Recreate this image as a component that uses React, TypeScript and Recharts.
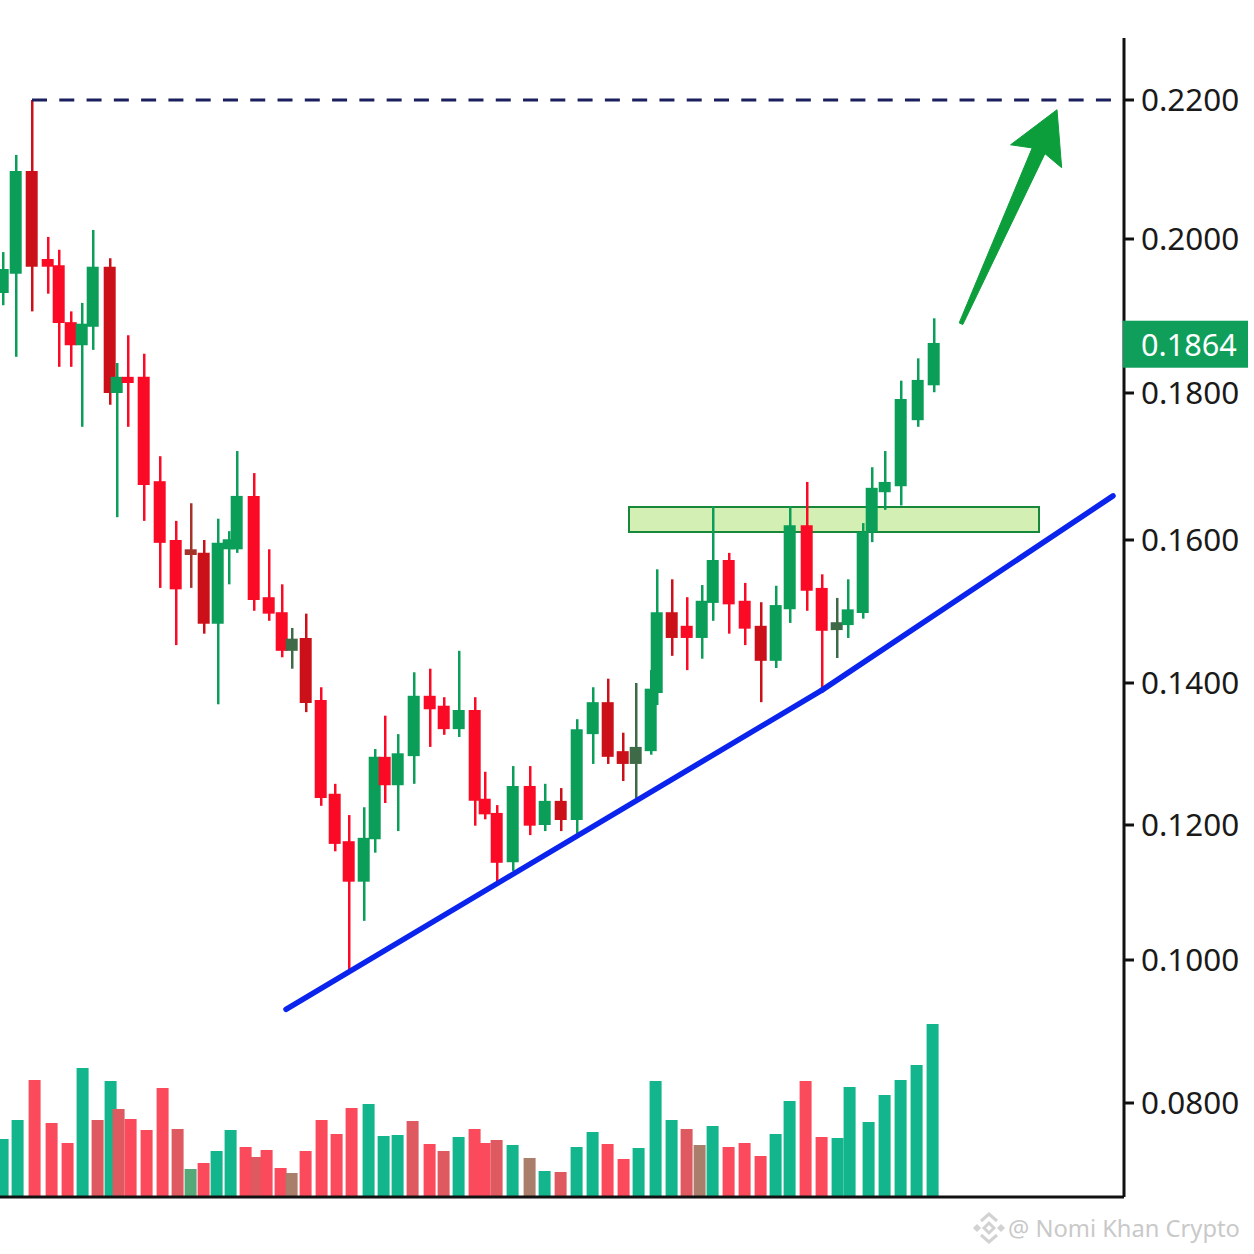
import React from 'react';
import { ComposedChart, Bar, XAxis, YAxis, ReferenceLine, ReferenceArea, Rectangle } from 'recharts';

// ---------- candles ----------
const candleSlot = [3,16,32,48,59,71,82,93,110,117,128,144,160,176,191,204,218,229,237,254,269,282,292,306,321,335,349,364,375,385,398,414,430,444,459,475,485,497,513,530,545,561,577,593,608,623,636,651,657,672,687,702,713,729,745,761,776,790,807,822,837,848,863,872,885,901,918,934];
const high = [.1983,.2121,.2200,.2003,.1986,.1906,.1917,.2013,.1975,.1839,.1875,.1851,.1714,.1626,.1650,.1600,.1629,.1612,.1721,.1691,.1587,.1538,.1477,.1497,.1394,.1258,.1214,.1225,.1307,.1354,.1328,.1415,.1420,.1380,.1445,.1380,.1275,.1228,.1283,.1283,.1258,.1252,.1349,.1394,.1406,.1330,.1400,.1418,.1559,.1545,.1520,.1537,.1646,.1582,.1540,.1513,.1536,.1646,.1679,.1552,.1519,.1545,.1623,.1699,.1721,.1816,.1845,.1897];
const bodyHigh = [.1961,.2098,.2098,.1974,.1966,.1892,.1890,.1964,.1964,.1821,.1821,.1821,.1680,.1600,.1587,.1582,.1596,.1601,.1660,.1660,.1520,.1499,.1462,.1463,.1376,.1244,.1176,.1181,.1296,.1296,.1301,.1382,.1382,.1368,.1362,.1362,.1237,.1217,.1255,.1255,.1234,.1234,.1335,.1373,.1373,.1304,.1310,.1392,.1499,.1499,.1480,.1515,.1572,.1572,.1515,.1480,.1509,.1620,.1620,.1533,.1485,.1503,.1611,.1671,.1679,.1792,.1817,.1865];
const bodyLow = [.1930,.1955,.1964,.1964,.1891,.1862,.1862,.1886,.1800,.1800,.1813,.1675,.1596,.1531,.1579,.1483,.1483,.1587,.1587,.1516,.1497,.1445,.1445,.1372,.1238,.1172,.1116,.1116,.1179,.1256,.1256,.1297,.1363,.1335,.1335,.1234,.1215,.1144,.1145,.1199,.1200,.1207,.1207,.1328,.1296,.1286,.1286,.1304,.1386,.1463,.1463,.1463,.1512,.1510,.1476,.1431,.1431,.1503,.1529,.1473,.1474,.1481,.1498,.1611,.1665,.1673,.1763,.1810];
const low = [.1914,.1847,.1906,.1929,.1834,.1834,.1754,.1856,.1784,.1631,.1754,.1626,.1533,.1453,.1533,.1469,.1370,.1538,.1582,.1501,.1487,.1436,.1420,.1359,.1227,.1161,.0982,.1058,.1159,.1231,.1191,.1258,.1310,.1327,.1324,.1199,.1208,.1116,.1132,.1185,.1191,.1191,.1187,.1286,.1286,.1262,.1237,.1299,.1369,.1438,.1418,.1434,.1487,.1469,.1453,.1373,.1421,.1484,.1501,.1393,.1435,.1463,.1490,.1597,.1641,.1647,.1754,.1801];
const candleTone = ['up','up','deep','down','down','down','up','up','deep','up','down','down','down','down','mix','deep','up','up','up','down','down','down','dim','deep','down','down','down','up','up','down','up','up','down','down','up','down','down','down','up','down','up','deep','up','up','deep','deep','dim','up','up','deep','down','up','up','down','down','deep','up','up','down','down','dim','up','up','up','up','up','up','up'];

// ---------- volume ----------
const volumeSlot = [3,18,35,52,68,83,98,111,119,131,147,163,178,191,204,217,231,246,257,267,281,292,306,322,337,352,369,384,398,413,430,444,459,475,485,497,513,530,545,561,577,593,608,624,639,656,672,687,700,713,729,745,761,776,790,806,822,838,850,869,885,901,917,933];
const volume = [58,77,117,74,54,129,77,116,88,78,67,109,68,28,34,46,67,50,40,47,29,24,46,77,63,89,93,61,62,76,53,46,60,68,54,57,52,39,26,25,50,65,53,38,49,116,77,68,52,71,50,54,41,63,96,116,60,59,110,75,102,117,132,173];
const volumeTone = ['g','g','r','r','r','g','m','g','m','r','r','r','m','s','r','g','g','r','m','r','r','b','r','r','r','r','g','g','g','m','r','m','g','r','r','m','g','b','g','m','g','g','r','r','g','g','g','m','b','g','r','r','r','g','g','r','r','g','g','g','g','g','g','g'];

// ---------- axis and annotations ----------
const priceTicks = [0.08, 0.1, 0.12, 0.14, 0.16, 0.18, 0.2, 0.22];
const lastPrice = 0.1864;
const targetPrice = 0.22;
const targetFrom = 32;
const targetTo = 1124;
const zoneFrom = 629;
const zoneTo = 1039;
const zoneHigh = 0.1645;
const zoneLow = 0.1611;
const trendStart = { x: 286, y: 0.0931 };
const trendKnee = { x: 822, y: 0.139 };
const trendEnd = { x: 1113, y: 0.166 };
const arrowStart = { x: 961, y: 0.189 };
const arrowTip = { x: 1057, y: 0.2186 };

const PLOT_TOP = 38;
const PLOT_BOTTOM = 1197;
const CANDLE_WIDTH = 12;
const VOLUME_WIDTH = 12;
// The printed axis is not evenly spaced: each printed price and where it sits on the page.
const axisPrices = [0.0669, 0.08, 0.1, 0.12, 0.14, 0.16, 0.18, 0.2, 0.22, 0.2287];
const axisPixels = [1197, 1103, 960, 825, 683, 540, 393, 239, 100, 38];
const axisFractions = axisPixels.map((p) => (PLOT_BOTTOM - p) / (PLOT_BOTTOM - PLOT_TOP));

function makePriceScale() {
  let dom: number[] = [axisPrices[0], axisPrices[axisPrices.length - 1]];
  let rng: number[] = [0, 1];
  const scale: any = (v: number) => {
    if (v === null || v === undefined || Number.isNaN(+v)) return NaN;
    let i = 0;
    while (i < axisPrices.length - 2 && +v > axisPrices[i + 1]) i++;
    const t = (+v - axisPrices[i]) / (axisPrices[i + 1] - axisPrices[i]);
    const f = axisFractions[i] + t * (axisFractions[i + 1] - axisFractions[i]);
    return rng[0] + f * (rng[1] - rng[0]);
  };
  scale.domain = (d?: number[]) => {
    if (d) { dom = d; return scale; }
    return dom;
  };
  scale.range = (r?: number[]) => {
    if (r) { rng = r; return scale; }
    return rng;
  };
  scale.copy = () => makePriceScale().domain(dom).range(rng);
  scale.ticks = () => priceTicks;
  scale.tickFormat = () => (v: number) => String(v);
  return scale;
}

const candleColors: Record<string, string> = {
  up: '#0A9E58', down: '#FB0A26', deep: '#CB1019', dim: '#3F6A48', mix: '#A5332B',
};
const volumeColors: Record<string, string> = {
  g: '#13B58C', r: '#FB4A5C', m: '#DE5A60', b: '#A97F6B', s: '#55A878',
};

const rows = candleSlot.map((x, i) => ({
  x,
  range: [low[i], high[i]],
  body: [bodyLow[i], bodyHigh[i]],
  tone: candleTone[i],
  vx: i < volumeSlot.length ? volumeSlot[i] : null,
  vol: i < volume.length ? volume[i] : null,
  vtone: i < volumeTone.length ? volumeTone[i] : null,
}));

const FONT = '"Noto Sans", sans-serif';

const WickShape = (p: any) => <Rectangle x={p.x} y={p.y} width={p.width} height={p.height} fill={candleColors[p.payload.tone]} />;
const BodyShape = (p: any) => (
  <Rectangle x={p.x + p.width / 2 - CANDLE_WIDTH / 2} y={p.y} width={CANDLE_WIDTH} height={p.height} fill={candleColors[p.payload.tone]} />
);
const VolumeBar = (p: any) =>
  p.payload.vol == null ? null : (
    <Rectangle x={p.x + p.width / 2 - VOLUME_WIDTH / 2} y={p.y} width={VOLUME_WIDTH} height={p.height} fill={volumeColors[p.payload.vtone]} />
  );

const PriceTick = (p: any) => {
  const isLast = p.payload.value === lastPrice;
  const label = p.payload.value.toFixed(4);
  return (
    <g>
      {isLast && <rect x={p.x - 18} y={p.y - 23} width={125} height={47} fill="#0F9F5A" />}
      <text x={p.x} y={isLast ? p.y + 1 : p.y} dy="0.36em" fontFamily={FONT} fontSize={isLast ? 30.6 : 31.4} fill={isLast ? '#FFFFFF' : '#1A1A1A'}>
        {label}
      </text>
    </g>
  );
};

const ArrowShape = (p: any) => {
  const dx = p.x2 - p.x1;
  const dy = p.y2 - p.y1;
  const len = Math.hypot(dx, dy);
  const ux = dx / len;
  const uy = dy / len;
  const nx = -uy;
  const ny = ux;
  const at = (along: number, side: number) => `${p.x2 - ux * along + nx * side},${p.y2 - uy * along + ny * side}`;
  const points = [at(0, 0), at(51, 28), at(45, 7), at(len, 2), at(len, -2), at(45, -7), at(51, -28)].join(' ');
  return <polygon points={points} fill="#0B9E3A" stroke="#0B9E3A" strokeWidth={1} strokeLinejoin="round" />;
};

const Watermark = () => (
  <g>
    <g fill="none" stroke="#D2D2D2" strokeWidth={3}>
      <path d="M981 1221 L989 1214 L997 1221" />
      <path d="M981 1235 L989 1242 L997 1235" />
      <path d="M984 1228 L989 1223 L994 1228 L989 1233 Z" />
      <path d="M975 1228 L977 1226 L979 1228 L977 1230 Z" />
      <path d="M999 1228 L1001 1226 L1003 1228 L1001 1230 Z" />
    </g>
    <text x={1008} y={1237} fontFamily={FONT} fontSize={23.7} fill="#C9C9C9">@ Nomi Khan Crypto</text>
  </g>
);

export default function App() {
  return (
    <div style={{ position: 'absolute', left: 0, top: 0, width: 1254, height: 1254, background: '#FFFFFF' }}>
      <ComposedChart width={1254} height={1254} data={rows} margin={{ top: PLOT_TOP, right: 0, bottom: 1254 - PLOT_BOTTOM - 1, left: 0 }} barGap={0} barCategoryGap={0}>
        <XAxis xAxisId="body" dataKey="x" type="number" domain={[0, 1124]} allowDataOverflow hide height={0} />
        <XAxis xAxisId="vol" dataKey="vx" type="number" domain={[0, 1124]} allowDataOverflow hide height={0} />
        <XAxis xAxisId="main" dataKey="x" type="number" domain={[0, 1124]} allowDataOverflow height={1} tick={false} tickLine={false} axisLine={{ stroke: '#111111', strokeWidth: 3 }} />
        <YAxis yAxisId="price" orientation="right" width={130} type="number" scale={makePriceScale() as any} domain={[0.0669, 0.2287]} allowDataOverflow ticks={[...priceTicks, lastPrice]} interval={0} tickSize={10} tickMargin={7} tickLine={{ stroke: '#111111', strokeWidth: 3 }} axisLine={{ stroke: '#111111', strokeWidth: 3 }} tick={PriceTick as any} />
        <YAxis yAxisId="volume" hide type="number" domain={[0, PLOT_BOTTOM - PLOT_TOP]} allowDataOverflow />

        <ReferenceArea xAxisId="main" yAxisId="price" x1={zoneFrom} x2={zoneTo} y1={zoneLow} y2={zoneHigh} fill="#D3EFB4" fillOpacity={1} stroke="#17883A" strokeWidth={2} ifOverflow="visible" />

        <Bar xAxisId="vol" yAxisId="volume" dataKey="vol" barSize={12} isAnimationActive={false} shape={VolumeBar as any} />
        <Bar xAxisId="main" yAxisId="price" dataKey="range" barSize={2.5} isAnimationActive={false} shape={WickShape as any} />
        <Bar xAxisId="body" yAxisId="price" dataKey="body" barSize={12} isAnimationActive={false} shape={BodyShape as any} />

        <ReferenceLine xAxisId="main" yAxisId="price" ifOverflow="visible" segment={[{ x: targetFrom, y: targetPrice }, { x: targetTo, y: targetPrice }]} stroke="#1B1F5E" strokeWidth={2.8} strokeDasharray="15 12.28" />
        <ReferenceLine xAxisId="main" yAxisId="price" ifOverflow="visible" segment={[trendStart, trendKnee]} stroke="#0A24EE" strokeWidth={5.5} strokeLinecap="round" />
        <ReferenceLine xAxisId="main" yAxisId="price" ifOverflow="visible" segment={[trendKnee, trendEnd]} stroke="#0A24EE" strokeWidth={5.5} strokeLinecap="round" />
        <ReferenceLine xAxisId="main" yAxisId="price" ifOverflow="visible" segment={[arrowStart, arrowTip]} shape={ArrowShape as any} />
        <Watermark />
      </ComposedChart>
    </div>
  );
}
